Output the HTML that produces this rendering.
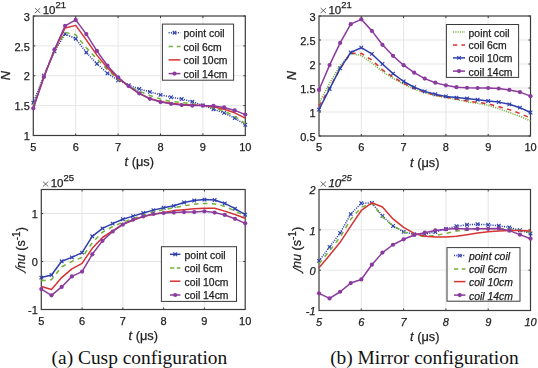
<!DOCTYPE html>
<html><head><meta charset="utf-8"><style>
html,body{margin:0;padding:0;background:#fff;}
body{width:538px;height:368px;overflow:hidden;position:relative;}
svg{display:block;position:absolute;left:0;top:0;}
#fig{filter:blur(0.35px);}
text{font-family:"Liberation Sans", sans-serif;fill:#222;stroke:#222;stroke-width:0.25px;}
text.cap{font-family:"Liberation Serif", serif;font-size:19.4px;fill:#111;stroke:none;}
</style></head><body>
<svg id="fig" width="538" height="368" viewBox="0 0 538 368">
<rect width="538" height="368" fill="#fff"/>
<path d="M75.70 16.0V135.5M118.10 16.0V135.5M160.50 16.0V135.5M202.90 16.0V135.5M33.3 105.62H245.3M33.3 75.75H245.3M33.3 45.88H245.3" stroke="#e6e6e6" stroke-width="1" fill="none"/>
<path d="M75.70 135.5v-2M75.70 16.0v2M118.10 135.5v-2M118.10 16.0v2M160.50 135.5v-2M160.50 16.0v2M202.90 135.5v-2M202.90 16.0v2M33.3 135.50h2M245.3 135.50h-2M33.3 105.62h2M245.3 105.62h-2M33.3 75.75h2M245.3 75.75h-2M33.3 45.88h2M245.3 45.88h-2M33.3 16.00h2M245.3 16.00h-2" stroke="#3a3a3a" stroke-width="1" fill="none"/>
<rect x="33.3" y="16.0" width="212.0" height="119.5" stroke="#3a3a3a" stroke-width="1.2" fill="none"/>
<g><polyline points="33.30,102.64 43.90,75.75 54.50,51.25 65.10,33.92 75.70,38.70 86.30,52.45 96.90,63.80 107.50,73.36 118.10,80.23 128.70,85.31 139.30,88.89 149.90,91.88 160.50,94.87 171.10,97.26 181.70,99.05 192.30,101.68 202.90,105.39 213.50,109.21 224.10,112.91 234.70,118.17 245.30,124.75" stroke="#2f3fae" stroke-width="1.5" fill="none" stroke-linejoin="round" stroke-dasharray="1.1 1.2"/>
<path d="M31.50 100.84L35.10 104.44M31.50 104.44L35.10 100.84" stroke="#2f3fae" stroke-width="1.1" fill="none"/>
<path d="M42.10 73.95L45.70 77.55M42.10 77.55L45.70 73.95" stroke="#2f3fae" stroke-width="1.1" fill="none"/>
<path d="M52.70 49.45L56.30 53.05M52.70 53.05L56.30 49.45" stroke="#2f3fae" stroke-width="1.1" fill="none"/>
<path d="M63.30 32.12L66.90 35.72M63.30 35.72L66.90 32.12" stroke="#2f3fae" stroke-width="1.1" fill="none"/>
<path d="M73.90 36.91L77.50 40.50M73.90 40.50L77.50 36.91" stroke="#2f3fae" stroke-width="1.1" fill="none"/>
<path d="M84.50 50.65L88.10 54.25M84.50 54.25L88.10 50.65" stroke="#2f3fae" stroke-width="1.1" fill="none"/>
<path d="M95.10 62.00L98.70 65.60M95.10 65.60L98.70 62.00" stroke="#2f3fae" stroke-width="1.1" fill="none"/>
<path d="M105.70 71.56L109.30 75.16M105.70 75.16L109.30 71.56" stroke="#2f3fae" stroke-width="1.1" fill="none"/>
<path d="M116.30 78.43L119.90 82.03M116.30 82.03L119.90 78.43" stroke="#2f3fae" stroke-width="1.1" fill="none"/>
<path d="M126.90 83.51L130.50 87.11M126.90 87.11L130.50 83.51" stroke="#2f3fae" stroke-width="1.1" fill="none"/>
<path d="M137.50 87.09L141.10 90.69M137.50 90.69L141.10 87.09" stroke="#2f3fae" stroke-width="1.1" fill="none"/>
<path d="M148.10 90.08L151.70 93.68M148.10 93.68L151.70 90.08" stroke="#2f3fae" stroke-width="1.1" fill="none"/>
<path d="M158.70 93.07L162.30 96.67M158.70 96.67L162.30 93.07" stroke="#2f3fae" stroke-width="1.1" fill="none"/>
<path d="M169.30 95.46L172.90 99.06M169.30 99.06L172.90 95.46" stroke="#2f3fae" stroke-width="1.1" fill="none"/>
<path d="M179.90 97.25L183.50 100.85M179.90 100.85L183.50 97.25" stroke="#2f3fae" stroke-width="1.1" fill="none"/>
<path d="M190.50 99.88L194.10 103.48M190.50 103.48L194.10 99.88" stroke="#2f3fae" stroke-width="1.1" fill="none"/>
<path d="M201.10 103.59L204.70 107.19M201.10 107.19L204.70 103.59" stroke="#2f3fae" stroke-width="1.1" fill="none"/>
<path d="M211.70 107.41L215.30 111.01M211.70 111.01L215.30 107.41" stroke="#2f3fae" stroke-width="1.1" fill="none"/>
<path d="M222.30 111.11L225.90 114.71M222.30 114.71L225.90 111.11" stroke="#2f3fae" stroke-width="1.1" fill="none"/>
<path d="M232.90 116.37L236.50 119.97M232.90 119.97L236.50 116.37" stroke="#2f3fae" stroke-width="1.1" fill="none"/>
<path d="M243.50 122.95L247.10 126.55M243.50 126.55L247.10 122.95" stroke="#2f3fae" stroke-width="1.1" fill="none"/>
</g>
<g><polyline points="33.30,105.62 43.90,76.35 54.50,50.66 65.10,32.43 75.70,34.70 86.30,47.67 96.90,59.02 107.50,69.77 118.10,79.34 128.70,85.91 139.30,91.28 149.90,95.47 160.50,99.05 171.10,101.44 181.70,102.64 192.30,103.83 202.90,105.62 213.50,108.02 224.10,111.00 234.70,116.38 245.30,123.55" stroke="#72b236" stroke-width="1.5" fill="none" stroke-linejoin="round" stroke-dasharray="4.5 4.4"/>
</g>
<g><polyline points="33.30,108.02 43.90,76.94 54.50,50.06 65.10,27.95 75.70,25.38 86.30,39.90 96.90,55.14 107.50,67.98 118.10,78.14 128.70,86.50 139.30,93.68 149.90,98.45 160.50,101.44 171.10,103.23 181.70,104.43 192.30,105.03 202.90,105.62 213.50,106.82 224.10,109.21 234.70,112.80 245.30,118.17" stroke="#d63333" stroke-width="1.5" fill="none" stroke-linejoin="round"/>
</g>
<g><polyline points="33.30,108.31 43.90,76.94 54.50,49.46 65.10,25.80 75.70,19.88 86.30,34.10 96.90,50.89 107.50,65.71 118.10,77.24 128.70,86.09 139.30,93.38 149.90,98.87 160.50,102.04 171.10,103.83 181.70,105.03 192.30,105.62 202.90,105.62 213.50,105.92 224.10,107.42 234.70,110.41 245.30,114.59" stroke="#8b3a9e" stroke-width="1.5" fill="none" stroke-linejoin="round"/>
<circle cx="33.30" cy="108.31" r="2.1" fill="#8b3a9e"/>
<circle cx="43.90" cy="76.94" r="2.1" fill="#8b3a9e"/>
<circle cx="54.50" cy="49.46" r="2.1" fill="#8b3a9e"/>
<circle cx="65.10" cy="25.80" r="2.1" fill="#8b3a9e"/>
<circle cx="75.70" cy="19.88" r="2.1" fill="#8b3a9e"/>
<circle cx="86.30" cy="34.10" r="2.1" fill="#8b3a9e"/>
<circle cx="96.90" cy="50.89" r="2.1" fill="#8b3a9e"/>
<circle cx="107.50" cy="65.71" r="2.1" fill="#8b3a9e"/>
<circle cx="118.10" cy="77.24" r="2.1" fill="#8b3a9e"/>
<circle cx="128.70" cy="86.09" r="2.1" fill="#8b3a9e"/>
<circle cx="139.30" cy="93.38" r="2.1" fill="#8b3a9e"/>
<circle cx="149.90" cy="98.87" r="2.1" fill="#8b3a9e"/>
<circle cx="160.50" cy="102.04" r="2.1" fill="#8b3a9e"/>
<circle cx="171.10" cy="103.83" r="2.1" fill="#8b3a9e"/>
<circle cx="181.70" cy="105.03" r="2.1" fill="#8b3a9e"/>
<circle cx="192.30" cy="105.62" r="2.1" fill="#8b3a9e"/>
<circle cx="202.90" cy="105.62" r="2.1" fill="#8b3a9e"/>
<circle cx="213.50" cy="105.92" r="2.1" fill="#8b3a9e"/>
<circle cx="224.10" cy="107.42" r="2.1" fill="#8b3a9e"/>
<circle cx="234.70" cy="110.41" r="2.1" fill="#8b3a9e"/>
<circle cx="245.30" cy="114.59" r="2.1" fill="#8b3a9e"/>
</g>
<text x="33.30" y="150.80" text-anchor="middle" font-size="11">5</text>
<text x="75.70" y="150.80" text-anchor="middle" font-size="11">6</text>
<text x="118.10" y="150.80" text-anchor="middle" font-size="11">7</text>
<text x="160.50" y="150.80" text-anchor="middle" font-size="11">8</text>
<text x="202.90" y="150.80" text-anchor="middle" font-size="11">9</text>
<text x="245.30" y="150.80" text-anchor="middle" font-size="11">10</text>
<text x="29.80" y="140.20" text-anchor="end" font-size="11">1</text>
<text x="29.80" y="110.33" text-anchor="end" font-size="11">1.5</text>
<text x="29.80" y="80.45" text-anchor="end" font-size="11">2</text>
<text x="29.80" y="50.58" text-anchor="end" font-size="11">2.5</text>
<text x="29.80" y="20.70" text-anchor="end" font-size="11">3</text>
<path d="M34.90 8.00L40.30 13.10M34.90 13.10L40.30 8.00" stroke="#444" stroke-width="0.8"/>
<text x="42.70" y="13.60" font-size="11.5">10<tspan font-size="9.5" dy="-5.8">21</tspan></text>
<text x="139.30" y="166.30" text-anchor="middle" font-size="12.8"><tspan font-style="italic">t</tspan> (μs)</text>
<rect x="162.4" y="24.1" width="71.2" height="56.1" fill="#fff" stroke="#3a3a3a" stroke-width="1"/>
<path d="M168.6 32.7H180.4" stroke="#2f3fae" stroke-width="1.5" stroke-dasharray="1.1 1.2"/>
<path d="M172.70 30.90L176.30 34.50M172.70 34.50L176.30 30.90" stroke="#2f3fae" stroke-width="1.1" fill="none"/>
<text x="183.6" y="37.10" font-size="10.4">point coil</text>
<path d="M168.6 46.4H172.9M176.8 46.4H180.4" stroke="#72b236" stroke-width="1.5"/>
<text x="183.6" y="50.80" font-size="10.4">coil 6cm</text>
<path d="M168.6 59.9H180.4" stroke="#d63333" stroke-width="1.5"/>
<text x="183.6" y="64.30" font-size="10.4">coil 10cm</text>
<path d="M168.6 73.6H180.4" stroke="#8b3a9e" stroke-width="1.5"/>
<circle cx="174.50" cy="73.60" r="2.1" fill="#8b3a9e"/>
<text x="183.6" y="78.00" font-size="10.4">coil 14cm</text>
<path d="M361.30 16.0V136.0M403.60 16.0V136.0M445.90 16.0V136.0M488.20 16.0V136.0M319.0 112.00H530.5M319.0 88.00H530.5M319.0 64.00H530.5M319.0 40.00H530.5" stroke="#e6e6e6" stroke-width="1" fill="none"/>
<path d="M361.30 136.0v-2M361.30 16.0v2M403.60 136.0v-2M403.60 16.0v2M445.90 136.0v-2M445.90 16.0v2M488.20 136.0v-2M488.20 16.0v2M319.0 136.00h2M530.5 136.00h-2M319.0 112.00h2M530.5 112.00h-2M319.0 88.00h2M530.5 88.00h-2M319.0 64.00h2M530.5 64.00h-2M319.0 40.00h2M530.5 40.00h-2M319.0 16.00h2M530.5 16.00h-2" stroke="#3a3a3a" stroke-width="1" fill="none"/>
<rect x="319.0" y="16.0" width="211.5" height="120.0" stroke="#3a3a3a" stroke-width="1.2" fill="none"/>
<g><polyline points="319.00,103.36 329.57,83.20 340.15,65.44 350.73,53.44 361.30,55.60 371.88,63.04 382.45,71.68 393.02,78.40 403.60,84.16 414.18,89.20 424.75,92.80 435.32,95.68 445.90,97.60 456.48,99.52 467.05,101.92 477.62,103.36 488.20,105.28 498.77,108.64 509.35,112.48 519.92,116.32 530.50,120.88" stroke="#72b236" stroke-width="1.5" fill="none" stroke-linejoin="round" stroke-dasharray="1.1 1.2"/>
</g>
<g><polyline points="319.00,106.24 329.57,88.00 340.15,68.80 350.73,53.20 361.30,53.44 371.88,60.16 382.45,69.76 393.02,76.96 403.60,83.20 414.18,88.48 424.75,92.32 435.32,95.20 445.90,97.12 456.48,99.04 467.05,100.96 477.62,102.40 488.20,103.84 498.77,106.72 509.35,109.60 519.92,113.44 530.50,118.00" stroke="#d63333" stroke-width="1.5" fill="none" stroke-linejoin="round" stroke-dasharray="4.5 4.4"/>
</g>
<g><polyline points="319.00,109.60 329.57,88.96 340.15,68.32 350.73,52.48 361.30,47.68 371.88,53.92 382.45,64.00 393.02,73.60 403.60,81.52 414.18,87.28 424.75,91.36 435.32,94.24 445.90,96.40 456.48,97.60 467.05,98.56 477.62,99.71 488.20,100.96 498.77,102.11 509.35,104.32 519.92,107.68 530.50,112.48" stroke="#2f3fae" stroke-width="1.5" fill="none" stroke-linejoin="round"/>
<path d="M317.20 107.80L320.80 111.40M317.20 111.40L320.80 107.80" stroke="#2f3fae" stroke-width="1.1" fill="none"/>
<path d="M327.77 87.16L331.38 90.76M327.77 90.76L331.38 87.16" stroke="#2f3fae" stroke-width="1.1" fill="none"/>
<path d="M338.35 66.52L341.95 70.12M338.35 70.12L341.95 66.52" stroke="#2f3fae" stroke-width="1.1" fill="none"/>
<path d="M348.93 50.68L352.53 54.28M348.93 54.28L352.53 50.68" stroke="#2f3fae" stroke-width="1.1" fill="none"/>
<path d="M359.50 45.88L363.10 49.48M359.50 49.48L363.10 45.88" stroke="#2f3fae" stroke-width="1.1" fill="none"/>
<path d="M370.07 52.12L373.68 55.72M370.07 55.72L373.68 52.12" stroke="#2f3fae" stroke-width="1.1" fill="none"/>
<path d="M380.65 62.20L384.25 65.80M380.65 65.80L384.25 62.20" stroke="#2f3fae" stroke-width="1.1" fill="none"/>
<path d="M391.22 71.80L394.82 75.40M391.22 75.40L394.82 71.80" stroke="#2f3fae" stroke-width="1.1" fill="none"/>
<path d="M401.80 79.72L405.40 83.32M401.80 83.32L405.40 79.72" stroke="#2f3fae" stroke-width="1.1" fill="none"/>
<path d="M412.38 85.48L415.98 89.08M412.38 89.08L415.98 85.48" stroke="#2f3fae" stroke-width="1.1" fill="none"/>
<path d="M422.95 89.56L426.55 93.16M422.95 93.16L426.55 89.56" stroke="#2f3fae" stroke-width="1.1" fill="none"/>
<path d="M433.52 92.44L437.12 96.04M433.52 96.04L437.12 92.44" stroke="#2f3fae" stroke-width="1.1" fill="none"/>
<path d="M444.10 94.60L447.70 98.20M444.10 98.20L447.70 94.60" stroke="#2f3fae" stroke-width="1.1" fill="none"/>
<path d="M454.68 95.80L458.28 99.40M454.68 99.40L458.28 95.80" stroke="#2f3fae" stroke-width="1.1" fill="none"/>
<path d="M465.25 96.76L468.85 100.36M465.25 100.36L468.85 96.76" stroke="#2f3fae" stroke-width="1.1" fill="none"/>
<path d="M475.82 97.91L479.43 101.51M475.82 101.51L479.43 97.91" stroke="#2f3fae" stroke-width="1.1" fill="none"/>
<path d="M486.40 99.16L490.00 102.76M486.40 102.76L490.00 99.16" stroke="#2f3fae" stroke-width="1.1" fill="none"/>
<path d="M496.97 100.31L500.57 103.91M496.97 103.91L500.57 100.31" stroke="#2f3fae" stroke-width="1.1" fill="none"/>
<path d="M507.55 102.52L511.15 106.12M507.55 106.12L511.15 102.52" stroke="#2f3fae" stroke-width="1.1" fill="none"/>
<path d="M518.12 105.88L521.72 109.48M518.12 109.48L521.72 105.88" stroke="#2f3fae" stroke-width="1.1" fill="none"/>
<path d="M528.70 110.68L532.30 114.28M528.70 114.28L532.30 110.68" stroke="#2f3fae" stroke-width="1.1" fill="none"/>
</g>
<g><polyline points="319.00,89.92 329.57,65.10 340.15,42.88 350.73,24.16 361.30,19.36 371.88,30.88 382.45,44.80 393.02,55.84 403.60,65.20 414.18,72.64 424.75,78.59 435.32,82.72 445.90,85.36 456.48,87.18 467.05,87.76 477.62,88.00 488.20,88.00 498.77,88.48 509.35,89.92 519.92,92.08 530.50,96.16" stroke="#8b3a9e" stroke-width="1.5" fill="none" stroke-linejoin="round"/>
<circle cx="319.00" cy="89.92" r="2.1" fill="#8b3a9e"/>
<circle cx="329.57" cy="65.10" r="2.1" fill="#8b3a9e"/>
<circle cx="340.15" cy="42.88" r="2.1" fill="#8b3a9e"/>
<circle cx="350.73" cy="24.16" r="2.1" fill="#8b3a9e"/>
<circle cx="361.30" cy="19.36" r="2.1" fill="#8b3a9e"/>
<circle cx="371.88" cy="30.88" r="2.1" fill="#8b3a9e"/>
<circle cx="382.45" cy="44.80" r="2.1" fill="#8b3a9e"/>
<circle cx="393.02" cy="55.84" r="2.1" fill="#8b3a9e"/>
<circle cx="403.60" cy="65.20" r="2.1" fill="#8b3a9e"/>
<circle cx="414.18" cy="72.64" r="2.1" fill="#8b3a9e"/>
<circle cx="424.75" cy="78.59" r="2.1" fill="#8b3a9e"/>
<circle cx="435.32" cy="82.72" r="2.1" fill="#8b3a9e"/>
<circle cx="445.90" cy="85.36" r="2.1" fill="#8b3a9e"/>
<circle cx="456.48" cy="87.18" r="2.1" fill="#8b3a9e"/>
<circle cx="467.05" cy="87.76" r="2.1" fill="#8b3a9e"/>
<circle cx="477.62" cy="88.00" r="2.1" fill="#8b3a9e"/>
<circle cx="488.20" cy="88.00" r="2.1" fill="#8b3a9e"/>
<circle cx="498.77" cy="88.48" r="2.1" fill="#8b3a9e"/>
<circle cx="509.35" cy="89.92" r="2.1" fill="#8b3a9e"/>
<circle cx="519.92" cy="92.08" r="2.1" fill="#8b3a9e"/>
<circle cx="530.50" cy="96.16" r="2.1" fill="#8b3a9e"/>
</g>
<text x="319.00" y="151.30" text-anchor="middle" font-size="11">5</text>
<text x="361.30" y="151.30" text-anchor="middle" font-size="11">6</text>
<text x="403.60" y="151.30" text-anchor="middle" font-size="11">7</text>
<text x="445.90" y="151.30" text-anchor="middle" font-size="11">8</text>
<text x="488.20" y="151.30" text-anchor="middle" font-size="11">9</text>
<text x="530.50" y="151.30" text-anchor="middle" font-size="11">10</text>
<text x="315.50" y="140.70" text-anchor="end" font-size="11">0.5</text>
<text x="315.50" y="116.70" text-anchor="end" font-size="11">1</text>
<text x="315.50" y="92.70" text-anchor="end" font-size="11">1.5</text>
<text x="315.50" y="68.70" text-anchor="end" font-size="11">2</text>
<text x="315.50" y="44.70" text-anchor="end" font-size="11">2.5</text>
<text x="315.50" y="20.70" text-anchor="end" font-size="11">3</text>
<path d="M320.60 8.00L326.00 13.10M320.60 13.10L326.00 8.00" stroke="#444" stroke-width="0.8"/>
<text x="328.40" y="13.60" font-size="11.5">10<tspan font-size="9.5" dy="-5.8">21</tspan></text>
<text x="424.75" y="166.80" text-anchor="middle" font-size="12.8"><tspan font-style="italic">t</tspan> (μs)</text>
<rect x="446.4" y="24.5" width="72.2" height="52.9" fill="#fff" stroke="#3a3a3a" stroke-width="1"/>
<path d="M453.0 32.1H465.0" stroke="#72b236" stroke-width="1.5" stroke-dasharray="1.1 1.2"/>
<text x="468.6" y="36.50" font-size="10.4">point coil</text>
<path d="M453.0 45.0H457.3M461.4 45.0H465.0" stroke="#d63333" stroke-width="1.5"/>
<text x="468.6" y="49.40" font-size="10.4">coil 6cm</text>
<path d="M453.0 57.9H465.0" stroke="#2f3fae" stroke-width="1.5"/>
<path d="M457.20 56.10L460.80 59.70M457.20 59.70L460.80 56.10" stroke="#2f3fae" stroke-width="1.1" fill="none"/>
<text x="468.6" y="62.30" font-size="10.4">coil 10cm</text>
<path d="M453.0 71.1H465.0" stroke="#8b3a9e" stroke-width="1.5"/>
<circle cx="459.00" cy="71.10" r="2.1" fill="#8b3a9e"/>
<text x="468.6" y="75.50" font-size="10.4">coil 14cm</text>
<path d="M82.08 189.5V309.5M122.86 189.5V309.5M163.64 189.5V309.5M204.42 189.5V309.5M41.3 261.50H245.2M41.3 213.50H245.2" stroke="#e6e6e6" stroke-width="1" fill="none"/>
<path d="M82.08 309.5v-2M82.08 189.5v2M122.86 309.5v-2M122.86 189.5v2M163.64 309.5v-2M163.64 189.5v2M204.42 309.5v-2M204.42 189.5v2M41.3 309.50h2M245.2 309.50h-2M41.3 261.50h2M245.2 261.50h-2M41.3 213.50h2M245.2 213.50h-2" stroke="#3a3a3a" stroke-width="1" fill="none"/>
<rect x="41.3" y="189.5" width="203.89999999999998" height="120.0" stroke="#3a3a3a" stroke-width="1.2" fill="none"/>
<g><polyline points="41.30,277.58 51.49,274.94 61.69,261.31 71.88,257.42 82.08,252.62 92.27,236.30 102.47,228.38 112.66,223.58 122.86,219.26 133.06,216.14 143.25,213.02 153.44,210.14 163.64,207.74 173.83,205.82 184.03,202.46 194.22,200.54 204.42,199.58 214.61,200.06 224.81,203.42 235.00,208.70 245.20,214.70" stroke="#2f3fae" stroke-width="1.5" fill="none" stroke-linejoin="round"/>
<path d="M39.50 275.78L43.10 279.38M39.50 279.38L43.10 275.78" stroke="#2f3fae" stroke-width="1.1" fill="none"/>
<path d="M49.70 273.14L53.29 276.74M49.70 276.74L53.29 273.14" stroke="#2f3fae" stroke-width="1.1" fill="none"/>
<path d="M59.89 259.51L63.49 263.11M59.89 263.11L63.49 259.51" stroke="#2f3fae" stroke-width="1.1" fill="none"/>
<path d="M70.08 255.62L73.68 259.22M70.08 259.22L73.68 255.62" stroke="#2f3fae" stroke-width="1.1" fill="none"/>
<path d="M80.28 250.82L83.88 254.42M80.28 254.42L83.88 250.82" stroke="#2f3fae" stroke-width="1.1" fill="none"/>
<path d="M90.47 234.50L94.07 238.10M90.47 238.10L94.07 234.50" stroke="#2f3fae" stroke-width="1.1" fill="none"/>
<path d="M100.67 226.58L104.27 230.18M100.67 230.18L104.27 226.58" stroke="#2f3fae" stroke-width="1.1" fill="none"/>
<path d="M110.86 221.78L114.46 225.38M110.86 225.38L114.46 221.78" stroke="#2f3fae" stroke-width="1.1" fill="none"/>
<path d="M121.06 217.46L124.66 221.06M121.06 221.06L124.66 217.46" stroke="#2f3fae" stroke-width="1.1" fill="none"/>
<path d="M131.25 214.34L134.86 217.94M131.25 217.94L134.86 214.34" stroke="#2f3fae" stroke-width="1.1" fill="none"/>
<path d="M141.45 211.22L145.05 214.82M141.45 214.82L145.05 211.22" stroke="#2f3fae" stroke-width="1.1" fill="none"/>
<path d="M151.64 208.34L155.25 211.94M151.64 211.94L155.25 208.34" stroke="#2f3fae" stroke-width="1.1" fill="none"/>
<path d="M161.84 205.94L165.44 209.54M161.84 209.54L165.44 205.94" stroke="#2f3fae" stroke-width="1.1" fill="none"/>
<path d="M172.03 204.02L175.63 207.62M172.03 207.62L175.63 204.02" stroke="#2f3fae" stroke-width="1.1" fill="none"/>
<path d="M182.23 200.66L185.83 204.26M182.23 204.26L185.83 200.66" stroke="#2f3fae" stroke-width="1.1" fill="none"/>
<path d="M192.42 198.74L196.02 202.34M192.42 202.34L196.02 198.74" stroke="#2f3fae" stroke-width="1.1" fill="none"/>
<path d="M202.62 197.78L206.22 201.38M202.62 201.38L206.22 197.78" stroke="#2f3fae" stroke-width="1.1" fill="none"/>
<path d="M212.81 198.26L216.41 201.86M212.81 201.86L216.41 198.26" stroke="#2f3fae" stroke-width="1.1" fill="none"/>
<path d="M223.01 201.62L226.61 205.22M223.01 205.22L226.61 201.62" stroke="#2f3fae" stroke-width="1.1" fill="none"/>
<path d="M233.20 206.90L236.80 210.50M233.20 210.50L236.80 206.90" stroke="#2f3fae" stroke-width="1.1" fill="none"/>
<path d="M243.40 212.90L247.00 216.50M243.40 216.50L247.00 212.90" stroke="#2f3fae" stroke-width="1.1" fill="none"/>
</g>
<g><polyline points="41.30,280.70 51.49,279.74 61.69,266.78 71.88,261.50 82.08,257.42 92.27,242.78 102.47,232.22 112.66,226.70 122.86,222.14 133.06,218.54 143.25,215.18 153.44,212.06 163.64,209.66 173.83,207.74 184.03,205.82 194.22,204.14 204.42,203.42 214.61,203.90 224.81,206.30 235.00,211.10 245.20,215.90" stroke="#72b236" stroke-width="1.5" fill="none" stroke-linejoin="round" stroke-dasharray="4.5 4.4"/>
</g>
<g><polyline points="41.30,286.46 51.49,289.58 61.69,277.58 71.88,268.94 82.08,263.42 92.27,248.30 102.47,237.50 112.66,230.78 122.86,224.06 133.06,220.22 143.25,216.62 153.44,214.22 163.64,212.54 173.83,210.62 184.03,209.66 194.22,208.70 204.42,208.22 214.61,208.22 224.81,211.10 235.00,214.46 245.20,218.30" stroke="#d63333" stroke-width="1.5" fill="none" stroke-linejoin="round"/>
</g>
<g><polyline points="41.30,289.10 51.49,295.34 61.69,286.94 71.88,276.38 82.08,271.58 92.27,254.30 102.47,240.86 112.66,231.50 122.86,224.54 133.06,219.74 143.25,216.38 153.44,213.98 163.64,213.02 173.83,212.54 184.03,212.06 194.22,212.06 204.42,211.34 214.61,212.54 224.81,214.94 235.00,218.78 245.20,223.34" stroke="#8b3a9e" stroke-width="1.5" fill="none" stroke-linejoin="round"/>
<circle cx="41.30" cy="289.10" r="2.1" fill="#8b3a9e"/>
<circle cx="51.49" cy="295.34" r="2.1" fill="#8b3a9e"/>
<circle cx="61.69" cy="286.94" r="2.1" fill="#8b3a9e"/>
<circle cx="71.88" cy="276.38" r="2.1" fill="#8b3a9e"/>
<circle cx="82.08" cy="271.58" r="2.1" fill="#8b3a9e"/>
<circle cx="92.27" cy="254.30" r="2.1" fill="#8b3a9e"/>
<circle cx="102.47" cy="240.86" r="2.1" fill="#8b3a9e"/>
<circle cx="112.66" cy="231.50" r="2.1" fill="#8b3a9e"/>
<circle cx="122.86" cy="224.54" r="2.1" fill="#8b3a9e"/>
<circle cx="133.06" cy="219.74" r="2.1" fill="#8b3a9e"/>
<circle cx="143.25" cy="216.38" r="2.1" fill="#8b3a9e"/>
<circle cx="153.44" cy="213.98" r="2.1" fill="#8b3a9e"/>
<circle cx="163.64" cy="213.02" r="2.1" fill="#8b3a9e"/>
<circle cx="173.83" cy="212.54" r="2.1" fill="#8b3a9e"/>
<circle cx="184.03" cy="212.06" r="2.1" fill="#8b3a9e"/>
<circle cx="194.22" cy="212.06" r="2.1" fill="#8b3a9e"/>
<circle cx="204.42" cy="211.34" r="2.1" fill="#8b3a9e"/>
<circle cx="214.61" cy="212.54" r="2.1" fill="#8b3a9e"/>
<circle cx="224.81" cy="214.94" r="2.1" fill="#8b3a9e"/>
<circle cx="235.00" cy="218.78" r="2.1" fill="#8b3a9e"/>
<circle cx="245.20" cy="223.34" r="2.1" fill="#8b3a9e"/>
</g>
<text x="41.30" y="324.80" text-anchor="middle" font-size="11">5</text>
<text x="82.08" y="324.80" text-anchor="middle" font-size="11">6</text>
<text x="122.86" y="324.80" text-anchor="middle" font-size="11">7</text>
<text x="163.64" y="324.80" text-anchor="middle" font-size="11">8</text>
<text x="204.42" y="324.80" text-anchor="middle" font-size="11">9</text>
<text x="245.20" y="324.80" text-anchor="middle" font-size="11">10</text>
<text x="37.80" y="314.20" text-anchor="end" font-size="11">-1</text>
<text x="37.80" y="266.20" text-anchor="end" font-size="11">0</text>
<text x="37.80" y="218.20" text-anchor="end" font-size="11">1</text>
<path d="M42.90 181.50L48.30 186.60M42.90 186.60L48.30 181.50" stroke="#444" stroke-width="0.8"/>
<text x="50.70" y="187.10" font-size="11.5">10<tspan font-size="9.5" dy="-5.8">25</tspan></text>
<text x="143.25" y="340.30" text-anchor="middle" font-size="12.8"><tspan font-style="italic">t</tspan> (μs)</text>
<rect x="161.4" y="246.7" width="75.1" height="54.7" fill="#fff" stroke="#3a3a3a" stroke-width="1"/>
<path d="M170.0 254.3H180.4" stroke="#2f3fae" stroke-width="1.5"/>
<path d="M173.40 252.50L177.00 256.10M173.40 256.10L177.00 252.50" stroke="#2f3fae" stroke-width="1.1" fill="none"/>
<text x="184.6" y="258.70" font-size="10.4">point coil</text>
<path d="M170.0 268.0H174.3M176.8 268.0H180.4" stroke="#72b236" stroke-width="1.5"/>
<text x="184.6" y="272.40" font-size="10.4">coil 6cm</text>
<path d="M170.0 281.2H180.4" stroke="#d63333" stroke-width="1.5"/>
<text x="184.6" y="285.60" font-size="10.4">coil 10cm</text>
<path d="M170.0 295.0H180.4" stroke="#8b3a9e" stroke-width="1.5"/>
<circle cx="175.20" cy="295.00" r="2.1" fill="#8b3a9e"/>
<text x="184.6" y="299.40" font-size="10.4">coil 14cm</text>
<path d="M361.30 189.5V310.5M403.60 189.5V310.5M445.90 189.5V310.5M488.20 189.5V310.5M319.0 270.17H530.5M319.0 229.83H530.5" stroke="#e6e6e6" stroke-width="1" fill="none"/>
<path d="M361.30 310.5v-2M361.30 189.5v2M403.60 310.5v-2M403.60 189.5v2M445.90 310.5v-2M445.90 189.5v2M488.20 310.5v-2M488.20 189.5v2M319.0 310.50h2M530.5 310.50h-2M319.0 270.17h2M530.5 270.17h-2M319.0 229.83h2M530.5 229.83h-2M319.0 189.50h2M530.5 189.50h-2" stroke="#3a3a3a" stroke-width="1" fill="none"/>
<rect x="319.0" y="189.5" width="211.5" height="121.0" stroke="#3a3a3a" stroke-width="1.2" fill="none"/>
<g><polyline points="319.00,260.89 329.57,246.97 340.15,233.06 350.73,214.10 361.30,203.21 371.88,203.01 382.45,215.92 393.02,226.00 403.60,231.85 414.18,234.27 424.75,234.27 435.32,232.05 445.90,229.03 456.48,226.20 467.05,224.79 477.62,224.19 488.20,224.79 498.77,225.80 509.35,227.41 519.92,230.24 530.50,233.46" stroke="#2f3fae" stroke-width="1.5" fill="none" stroke-linejoin="round" stroke-dasharray="1.1 1.2"/>
<path d="M317.20 259.09L320.80 262.69M317.20 262.69L320.80 259.09" stroke="#2f3fae" stroke-width="1.1" fill="none"/>
<path d="M327.77 245.17L331.38 248.78M327.77 248.78L331.38 245.17" stroke="#2f3fae" stroke-width="1.1" fill="none"/>
<path d="M338.35 231.26L341.95 234.86M338.35 234.86L341.95 231.26" stroke="#2f3fae" stroke-width="1.1" fill="none"/>
<path d="M348.93 212.30L352.53 215.90M348.93 215.90L352.53 212.30" stroke="#2f3fae" stroke-width="1.1" fill="none"/>
<path d="M359.50 201.41L363.10 205.01M359.50 205.01L363.10 201.41" stroke="#2f3fae" stroke-width="1.1" fill="none"/>
<path d="M370.07 201.21L373.68 204.81M370.07 204.81L373.68 201.21" stroke="#2f3fae" stroke-width="1.1" fill="none"/>
<path d="M380.65 214.12L384.25 217.72M380.65 217.72L384.25 214.12" stroke="#2f3fae" stroke-width="1.1" fill="none"/>
<path d="M391.22 224.20L394.82 227.80M391.22 227.80L394.82 224.20" stroke="#2f3fae" stroke-width="1.1" fill="none"/>
<path d="M401.80 230.05L405.40 233.65M401.80 233.65L405.40 230.05" stroke="#2f3fae" stroke-width="1.1" fill="none"/>
<path d="M412.38 232.47L415.98 236.07M412.38 236.07L415.98 232.47" stroke="#2f3fae" stroke-width="1.1" fill="none"/>
<path d="M422.95 232.47L426.55 236.07M422.95 236.07L426.55 232.47" stroke="#2f3fae" stroke-width="1.1" fill="none"/>
<path d="M433.52 230.25L437.12 233.85M433.52 233.85L437.12 230.25" stroke="#2f3fae" stroke-width="1.1" fill="none"/>
<path d="M444.10 227.23L447.70 230.83M444.10 230.83L447.70 227.23" stroke="#2f3fae" stroke-width="1.1" fill="none"/>
<path d="M454.68 224.40L458.28 228.00M454.68 228.00L458.28 224.40" stroke="#2f3fae" stroke-width="1.1" fill="none"/>
<path d="M465.25 222.99L468.85 226.59M465.25 226.59L468.85 222.99" stroke="#2f3fae" stroke-width="1.1" fill="none"/>
<path d="M475.82 222.39L479.43 225.99M475.82 225.99L479.43 222.39" stroke="#2f3fae" stroke-width="1.1" fill="none"/>
<path d="M486.40 222.99L490.00 226.59M486.40 226.59L490.00 222.99" stroke="#2f3fae" stroke-width="1.1" fill="none"/>
<path d="M496.97 224.00L500.57 227.60M496.97 227.60L500.57 224.00" stroke="#2f3fae" stroke-width="1.1" fill="none"/>
<path d="M507.55 225.61L511.15 229.21M507.55 229.21L511.15 225.61" stroke="#2f3fae" stroke-width="1.1" fill="none"/>
<path d="M518.12 228.44L521.72 232.04M518.12 232.04L521.72 228.44" stroke="#2f3fae" stroke-width="1.1" fill="none"/>
<path d="M528.70 231.66L532.30 235.26M528.70 235.26L532.30 231.66" stroke="#2f3fae" stroke-width="1.1" fill="none"/>
</g>
<g><polyline points="319.00,263.71 329.57,250.81 340.15,237.09 350.73,219.35 361.30,207.25 371.88,203.37 382.45,216.93 393.02,225.80 403.60,231.85 414.18,234.96 424.75,236.57 435.32,235.48 445.90,233.46 456.48,231.04 467.05,229.83 477.62,228.82 488.20,228.42 498.77,228.82 509.35,229.03 519.92,230.24 530.50,232.25" stroke="#72b236" stroke-width="1.5" fill="none" stroke-linejoin="round" stroke-dasharray="4.5 4.4"/>
</g>
<g><polyline points="319.00,267.75 329.57,255.24 340.15,242.34 350.73,226.20 361.30,210.47 371.88,202.81 382.45,207.05 393.02,218.94 403.60,227.41 414.18,233.46 424.75,236.29 435.32,237.09 445.90,237.09 456.48,236.17 467.05,234.67 477.62,233.06 488.20,231.85 498.77,231.04 509.35,230.44 519.92,230.44 530.50,231.04" stroke="#d63333" stroke-width="1.5" fill="none" stroke-linejoin="round"/>
</g>
<g><polyline points="319.00,293.36 329.57,298.40 340.15,291.75 350.73,283.07 361.30,279.44 371.88,264.72 382.45,252.62 393.02,244.76 403.60,239.31 414.18,234.96 424.75,232.66 435.32,230.44 445.90,229.23 456.48,228.62 467.05,229.03 477.62,228.82 488.20,228.82 498.77,228.42 509.35,230.64 519.92,234.67 530.50,238.71" stroke="#8b3a9e" stroke-width="1.5" fill="none" stroke-linejoin="round"/>
<circle cx="319.00" cy="293.36" r="2.1" fill="#8b3a9e"/>
<circle cx="329.57" cy="298.40" r="2.1" fill="#8b3a9e"/>
<circle cx="340.15" cy="291.75" r="2.1" fill="#8b3a9e"/>
<circle cx="350.73" cy="283.07" r="2.1" fill="#8b3a9e"/>
<circle cx="361.30" cy="279.44" r="2.1" fill="#8b3a9e"/>
<circle cx="371.88" cy="264.72" r="2.1" fill="#8b3a9e"/>
<circle cx="382.45" cy="252.62" r="2.1" fill="#8b3a9e"/>
<circle cx="393.02" cy="244.76" r="2.1" fill="#8b3a9e"/>
<circle cx="403.60" cy="239.31" r="2.1" fill="#8b3a9e"/>
<circle cx="414.18" cy="234.96" r="2.1" fill="#8b3a9e"/>
<circle cx="424.75" cy="232.66" r="2.1" fill="#8b3a9e"/>
<circle cx="435.32" cy="230.44" r="2.1" fill="#8b3a9e"/>
<circle cx="445.90" cy="229.23" r="2.1" fill="#8b3a9e"/>
<circle cx="456.48" cy="228.62" r="2.1" fill="#8b3a9e"/>
<circle cx="467.05" cy="229.03" r="2.1" fill="#8b3a9e"/>
<circle cx="477.62" cy="228.82" r="2.1" fill="#8b3a9e"/>
<circle cx="488.20" cy="228.82" r="2.1" fill="#8b3a9e"/>
<circle cx="498.77" cy="228.42" r="2.1" fill="#8b3a9e"/>
<circle cx="509.35" cy="230.64" r="2.1" fill="#8b3a9e"/>
<circle cx="519.92" cy="234.67" r="2.1" fill="#8b3a9e"/>
<circle cx="530.50" cy="238.71" r="2.1" fill="#8b3a9e"/>
</g>
<text x="319.00" y="325.80" text-anchor="middle" font-size="11" font-style="italic">5</text>
<text x="361.30" y="325.80" text-anchor="middle" font-size="11" font-style="italic">6</text>
<text x="403.60" y="325.80" text-anchor="middle" font-size="11" font-style="italic">7</text>
<text x="445.90" y="325.80" text-anchor="middle" font-size="11" font-style="italic">8</text>
<text x="488.20" y="325.80" text-anchor="middle" font-size="11" font-style="italic">9</text>
<text x="530.50" y="325.80" text-anchor="middle" font-size="11" font-style="italic">10</text>
<text x="315.50" y="315.20" text-anchor="end" font-size="11" font-style="italic">-1</text>
<text x="315.50" y="274.87" text-anchor="end" font-size="11" font-style="italic">0</text>
<text x="315.50" y="234.53" text-anchor="end" font-size="11" font-style="italic">1</text>
<text x="315.50" y="194.20" text-anchor="end" font-size="11" font-style="italic">2</text>
<path d="M320.60 181.50L326.00 186.60M320.60 186.60L326.00 181.50" stroke="#444" stroke-width="0.8"/>
<text x="328.40" y="187.10" font-size="11.5" font-style="italic">10<tspan font-size="9.5" dy="-5.8">25</tspan></text>
<text x="424.75" y="341.30" text-anchor="middle" font-size="12.8"><tspan font-style="italic">t</tspan> (μs)</text>
<rect x="447.0" y="247.6" width="73.0" height="53.6" fill="#fff" stroke="#3a3a3a" stroke-width="1"/>
<path d="M454.0 255.6H465.4" stroke="#2f3fae" stroke-width="1.5" stroke-dasharray="1.1 1.2"/>
<path d="M457.90 253.80L461.50 257.40M457.90 257.40L461.50 253.80" stroke="#2f3fae" stroke-width="1.1" fill="none"/>
<text x="469.0" y="260.00" font-size="10.4" font-style="italic">point coil</text>
<path d="M454.0 268.9H458.3M461.8 268.9H465.4" stroke="#72b236" stroke-width="1.5"/>
<text x="469.0" y="273.30" font-size="10.4" font-style="italic">coil 6cm</text>
<path d="M454.0 281.6H465.4" stroke="#d63333" stroke-width="1.5"/>
<text x="469.0" y="286.00" font-size="10.4" font-style="italic">coil 10cm</text>
<path d="M454.0 295.1H465.4" stroke="#8b3a9e" stroke-width="1.5"/>
<circle cx="459.70" cy="295.10" r="2.1" fill="#8b3a9e"/>
<text x="469.0" y="299.50" font-size="10.4" font-style="italic">coil 14cm</text>
<text transform="translate(10.3 75.6) rotate(-90)" text-anchor="middle" font-size="12.8" font-style="italic">N</text>
<text transform="translate(296.3 75.6) rotate(-90)" text-anchor="middle" font-size="12.8" font-style="italic">N</text>
<text transform="translate(25.0 249.4) rotate(-90)" text-anchor="middle" font-size="12.6"><tspan font-style="italic"><tspan visibility="hidden">∫</tspan>nu</tspan> (s<tspan font-size="10" dy="-5.2">-1</tspan><tspan dy="5.2">)</tspan></text>
<text transform="translate(301.0 249.2) rotate(-90)" text-anchor="middle" font-size="12.6"><tspan font-style="italic"><tspan visibility="hidden">∫</tspan>nu</tspan> (s<tspan font-size="10" dy="-5.2">-1</tspan><tspan dy="5.2">)</tspan></text>
<path transform="translate(0 0)" d="M15.7 265.5Q15.3 267.1 16.8 267.7L24.1 271.4Q25.6 272.1 25.3 273.5" stroke="#262626" stroke-width="1.1" fill="none"/>
<path transform="translate(277.5 0.4)" d="M15.7 265.5Q15.3 267.1 16.8 267.7L24.1 271.4Q25.6 272.1 25.3 273.5" stroke="#262626" stroke-width="1.1" fill="none"/>
</svg>
<svg width="538" height="368" viewBox="0 0 538 368">
<text x="139.4" y="363.9" text-anchor="middle" class="cap">(a) Cusp configuration</text>
<text x="424.4" y="363.9" text-anchor="middle" class="cap">(b) Mirror configuration</text>
</svg>
</body></html>
